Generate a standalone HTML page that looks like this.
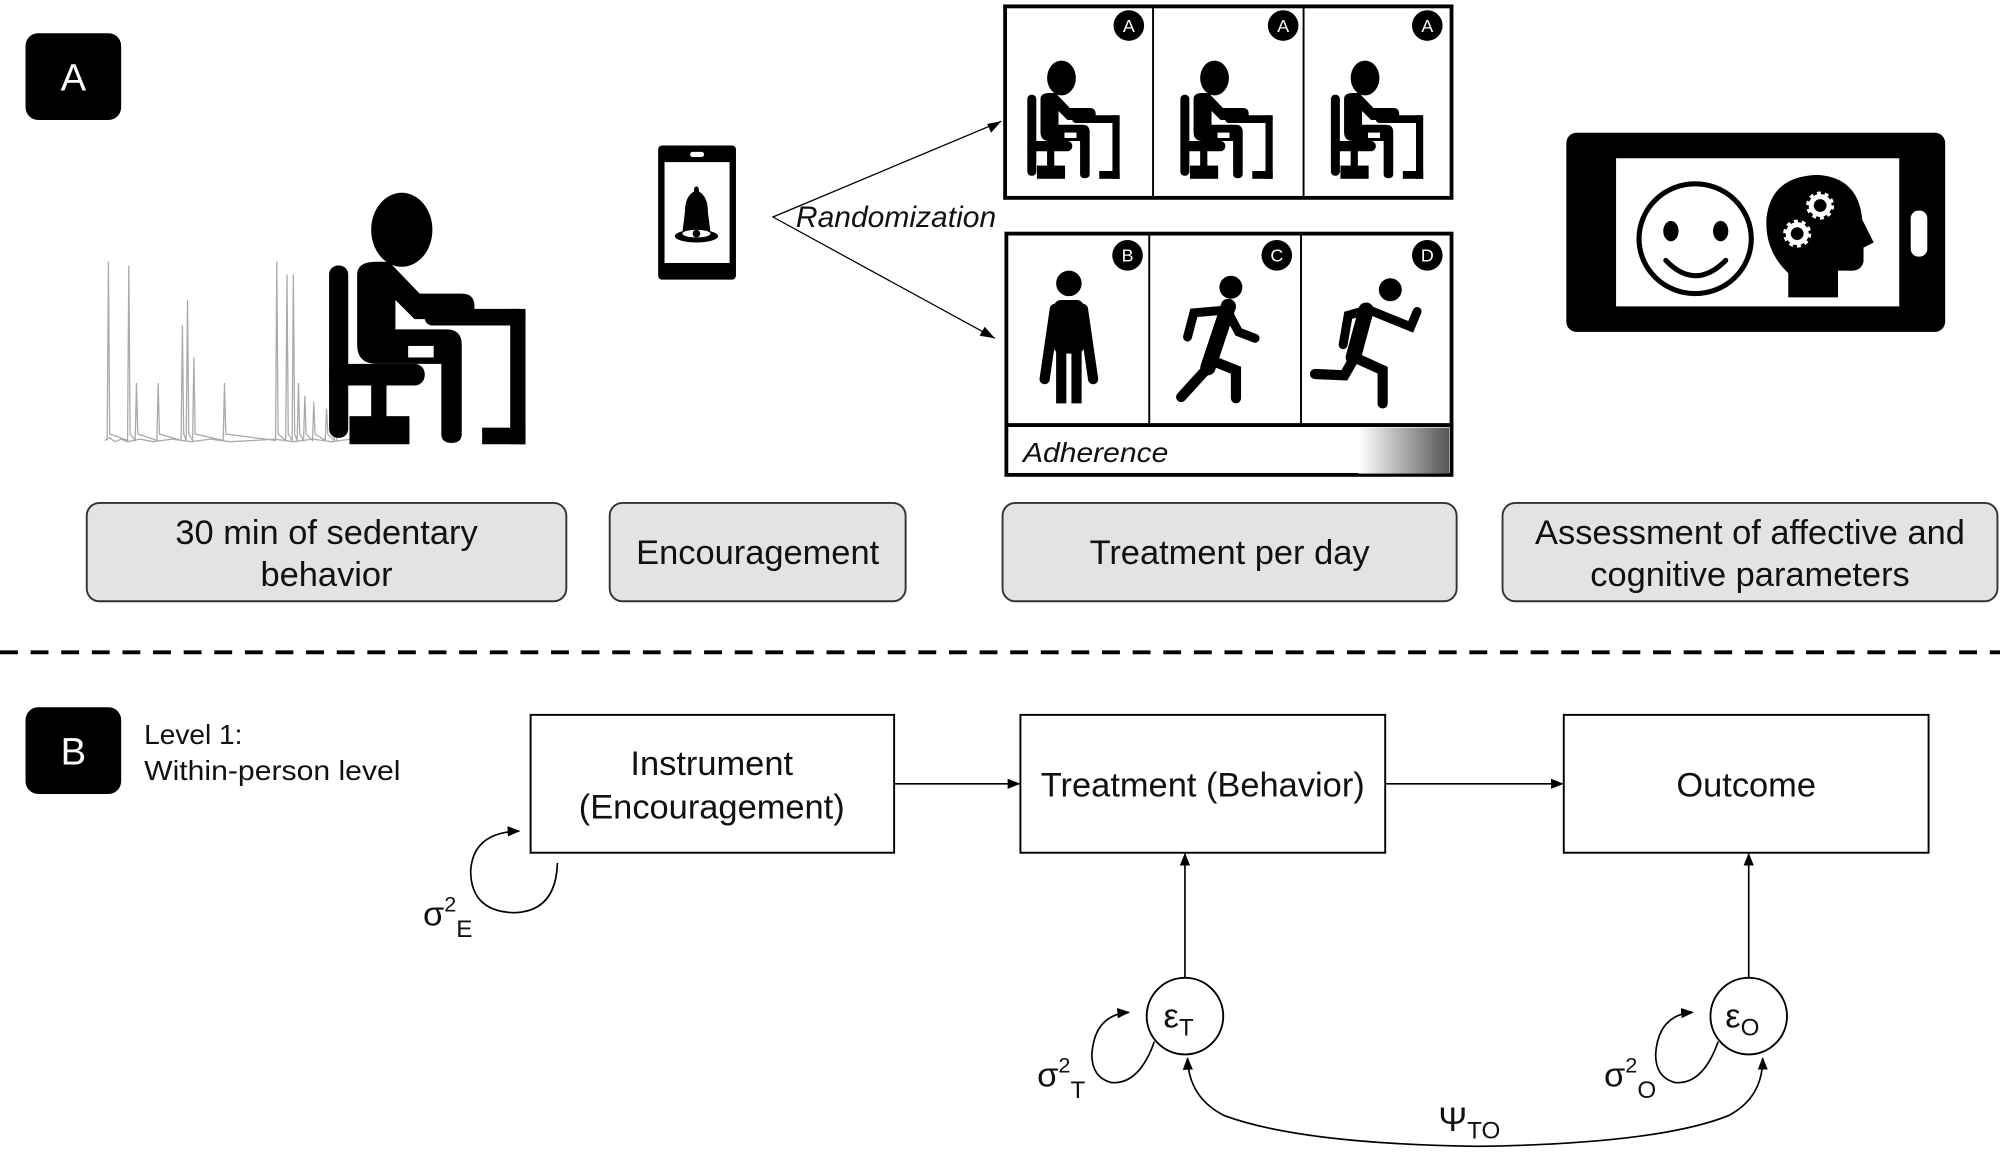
<!DOCTYPE html>
<html><head><meta charset="utf-8"><style>
html,body{margin:0;padding:0;background:#fff}
svg{display:block}
text{font-family:"Liberation Sans",Arial,sans-serif;fill:#111}
</style></head><body>
<svg width="2000" height="1154" viewBox="0 0 1568 904" preserveAspectRatio="none" xmlns="http://www.w3.org/2000/svg">
<defs>
<marker id="ah" markerWidth="10" markerHeight="10" refX="9" refY="5" orient="auto" markerUnits="userSpaceOnUse"><path d="M0,1 L10,5 L0,9 Z" fill="#000"/></marker>
<linearGradient id="gr" x1="0" x2="1" y1="0" y2="0"><stop offset="0" stop-color="#fff"/><stop offset="1" stop-color="#555"/></linearGradient>
<g id="seat">
<ellipse cx="60" cy="30" rx="24" ry="29"/>
<path d="M25,65 Q25,55 40,55 L50,55 L74,80 L107,80 Q117,80 117,90 Q117,100 107,100 L70,100 L55,85 L55,108 L95,108 Q107,108 107,120 L107,190 Q107,197 99,197 Q91,197 91,190 L91,135 L40,135 Q25,135 25,120 Z"/>
<rect x="3" y="58" width="15" height="135" rx="7"/>
<rect x="3" y="135" width="75" height="17" rx="8"/>
<rect x="36" y="150" width="12" height="30"/>
<rect x="19" y="176" width="47" height="22"/>
<rect x="78" y="92" width="79" height="13" rx="6"/>
<rect x="145" y="92" width="12" height="106"/>
<rect x="123" y="185" width="34" height="13"/>
<rect x="65" y="121" width="20" height="9" fill="#fff"/>
</g>
</defs>

<!-- A badge -->
<rect x="20" y="26" width="75" height="68" rx="10" fill="#000"/>
<text x="57.5" y="71" font-size="30" text-anchor="middle" style="fill:#fff">A</text>

<!-- trace -->
<g stroke="#aaa" stroke-width="1" fill="none">
<polyline points="82,345 86,343 90,346 95,344 100,346 110,344 120,346 135,344 150,346 165,344 180,346 200,345 215,344 230,346 245,344 260,346 275,344 290,346"/>
<polyline points="84,345 85,205 86,340 100,345 101,208 102,340 106,345 107,300 108,340 123,345 124,300 125,340 142,345 143,255 144,340 146,345 147,235 148,340 151,345 152,280 153,340 175,345 176,300 177,340 216,345 217,205 218,340 224,345 225,215 226,340 229,345 230,215 231,340 233,345 234,300 235,340 238,345 239,310 240,340 245,345 246,315 247,340 255,345 256,320 257,340 262,345 263,330 264,345"/>
</g>
<use href="#seat" transform="translate(255,150)"/>

<!-- phone -->
<rect x="516" y="114" width="61" height="105" rx="3" fill="#000"/>
<rect x="521" y="127" width="51" height="79" fill="#fff"/>
<rect x="541" y="119" width="11" height="4" rx="2" fill="#fff"/>
<path d="M546,146 Q544,146 544,150 Q537,154 537,166 L535,182 Q534,186 530,186 L561,186 Q558,186 557,182 L555,166 Q555,154 548,150 Q548,146 546,146 Z" fill="#000"/>
<ellipse cx="546" cy="185" rx="17" ry="5" fill="#000"/>
<ellipse cx="546" cy="183" rx="11" ry="3" fill="#fff"/>
<circle cx="546" cy="183" r="3" fill="#000"/>

<!-- randomization -->
<polyline points="785,95 606,170 780,265" fill="none" stroke="#000" stroke-width="1"/>
<path d="M785,95 L774,97 L777,104 Z M780,265 L772,256 L768,263 Z" fill="#000"/>
<text x="624" y="178" font-size="23" font-style="italic" textLength="157" lengthAdjust="spacingAndGlyphs">Randomization</text>

<!-- top panel -->
<rect x="788" y="5" width="350" height="150" fill="#fff" stroke="#000" stroke-width="3"/>
<line x1="904" y1="5" x2="904" y2="155" stroke="#000" stroke-width="1.5"/>
<line x1="1022" y1="5" x2="1022" y2="155" stroke="#000" stroke-width="1.5"/>
<g font-size="14" text-anchor="middle">
<circle cx="885" cy="20" r="12"/><text x="885" y="25" style="fill:#fff">A</text>
<circle cx="1006" cy="20" r="12"/><text x="1006" y="25" style="fill:#fff">A</text>
<circle cx="1119" cy="20" r="12"/><text x="1119" y="25" style="fill:#fff">A</text>
</g>
<use href="#seat" transform="translate(804,47) scale(0.47)"/>
<use href="#seat" transform="translate(924,47) scale(0.47)"/>
<use href="#seat" transform="translate(1042,47) scale(0.47)"/>

<!-- bottom panel -->
<rect x="789" y="183" width="349" height="189" fill="#fff" stroke="#000" stroke-width="3"/>
<rect x="1065" y="335" width="71" height="36" fill="url(#gr)"/>
<line x1="789" y1="333" x2="1138" y2="333" stroke="#000" stroke-width="3"/>
<line x1="901" y1="183" x2="901" y2="333" stroke="#000" stroke-width="1.5"/>
<line x1="1020" y1="183" x2="1020" y2="333" stroke="#000" stroke-width="1.5"/>
<g font-size="14" text-anchor="middle">
<circle cx="884" cy="200" r="12"/><text x="884" y="205" style="fill:#fff">B</text>
<circle cx="1001" cy="200" r="12"/><text x="1001" y="205" style="fill:#fff">C</text>
<circle cx="1119" cy="200" r="12"/><text x="1119" y="205" style="fill:#fff">D</text>
</g>
<text x="802" y="362" font-size="22" font-style="italic" textLength="114" lengthAdjust="spacingAndGlyphs">Adherence</text>
<!-- standing -->
<circle cx="838" cy="222" r="10"/>
<rect x="826" y="235" width="24" height="42" rx="6"/>
<g stroke="#000" stroke-linecap="round" fill="none">
<path d="M827,242 L819,297 M849,242 L857,297" stroke-width="8"/>
<path d="M832,272 L832,316 M844,272 L844,316" stroke-width="8" stroke-linecap="butt"/>
<path d="M963,240 L947,288" stroke-width="12"/>
<path d="M947,288 L926,311 M949,282 L969,290 L969,312" stroke-width="8"/>
<path d="M960,243 L936,245 L931,264 M963,245 L971,260 L984,265" stroke-width="7"/>
<path d="M1071,243 L1061,280" stroke-width="12"/>
<path d="M1062,280 L1054,294 L1031,293 M1062,280 L1084,290 L1084,316" stroke-width="8"/>
<path d="M1071,243 L1057,247 L1053,270 M1074,243 L1091,250 L1106,256 L1111,244" stroke-width="7"/>
</g>
<circle cx="965" cy="225" r="9"/>
<circle cx="1090" cy="227" r="9"/>

<!-- tablet -->
<rect x="1228" y="104" width="297" height="156" rx="8" fill="#000"/>
<rect x="1267" y="124" width="222" height="116" fill="#fff"/>
<rect x="1498" y="165" width="13" height="36" rx="6" fill="#fff"/>
<ellipse cx="1329" cy="187" rx="44" ry="43" fill="none" stroke="#000" stroke-width="4"/>
<ellipse cx="1310" cy="181" rx="6" ry="8"/>
<ellipse cx="1349" cy="181" rx="6" ry="8"/>
<path d="M1306,204 Q1329,228 1353,204" fill="none" stroke="#000" stroke-width="4" stroke-linecap="round"/>
<path d="M1402,233 L1402,214 Q1383,196 1385,170 Q1389,138 1425,137 Q1457,139 1460,172 L1469,190 L1461,194 L1461,205 Q1459,213 1449,212 L1441,212 L1441,233 Z"/>
<g fill="none" stroke="#fff">
<circle cx="1427" cy="161" r="7" stroke-width="4"/>
<circle cx="1427" cy="161" r="9.5" stroke-width="3" stroke-dasharray="3 3"/>
<circle cx="1409" cy="183" r="7" stroke-width="4"/>
<circle cx="1409" cy="183" r="9.5" stroke-width="3" stroke-dasharray="3 3"/>
</g>

<!-- label boxes -->
<g fill="#e3e3e3" stroke="#333" stroke-width="1.5">
<rect x="68" y="394" width="376" height="77" rx="10"/>
<rect x="478" y="394" width="232" height="77" rx="10"/>
<rect x="786" y="394" width="356" height="77" rx="10"/>
<rect x="1178" y="394" width="388" height="77" rx="10"/>
</g>
<g font-size="27" text-anchor="middle">
<text x="256" y="426">30 min of sedentary</text>
<text x="256" y="459">behavior</text>
<text x="594" y="442">Encouragement</text>
<text x="964" y="442">Treatment per day</text>
<text x="1372" y="426">Assessment of affective and</text>
<text x="1372" y="459">cognitive parameters</text>
</g>

<line x1="0" y1="511" x2="1568" y2="511" stroke="#000" stroke-width="3" stroke-dasharray="14 10"/>

<!-- B -->
<rect x="20" y="554" width="75" height="68" rx="10" fill="#000"/>
<text x="57.5" y="599" font-size="30" text-anchor="middle" style="fill:#fff">B</text>
<text x="113" y="583" font-size="22">Level 1:</text>
<text x="113" y="611" font-size="22" textLength="201" lengthAdjust="spacingAndGlyphs">Within-person level</text>

<g fill="#fff" stroke="#000" stroke-width="1.5">
<rect x="416" y="560" width="285" height="108"/>
<rect x="800" y="560" width="286" height="108"/>
<rect x="1226" y="560" width="286" height="108"/>
<circle cx="929" cy="796" r="30"/>
<circle cx="1371" cy="796" r="30"/>
</g>
<g font-size="27" text-anchor="middle">
<text x="558" y="607">Instrument</text>
<text x="558" y="641">(Encouragement)</text>
<text x="943" y="624">Treatment (Behavior)</text>
<text x="1369" y="624">Outcome</text>
<text x="924" y="805">ε<tspan font-size="19" dy="6">T</tspan></text>
<text x="1366" y="805">ε<tspan font-size="19" dy="6">O</tspan></text>
<text x="351" y="725">σ<tspan font-size="17" dy="-11">2</tspan><tspan font-size="19" dy="20">E</tspan></text>
<text x="832" y="851">σ<tspan font-size="17" dy="-11">2</tspan><tspan font-size="19" dy="20">T</tspan></text>
<text x="1278" y="851">σ<tspan font-size="17" dy="-11">2</tspan><tspan font-size="19" dy="20">O</tspan></text>
<text x="1152" y="886">Ψ<tspan font-size="19" dy="6">TO</tspan></text>
</g>
<g fill="none" stroke="#000" stroke-width="1.3" marker-end="url(#ah)">
<line x1="701" y1="614" x2="799" y2="614"/>
<line x1="1086" y1="614" x2="1225" y2="614"/>
<line x1="929" y1="766" x2="929" y2="669"/>
<line x1="1371" y1="766" x2="1371" y2="669"/>
<path d="M437,676 Q436,714 403,715 Q369,714 369,682 Q371,652 407,651"/>
<path d="M905,816 Q893,850 871,848 Q856,844 856,826 Q858,795 885,793"/>
<path d="M1347,816 Q1335,850 1313,848 Q1298,844 1298,826 Q1300,795 1327,793"/>
<path d="M1158,898 Q1020,896 960,874 Q932,860 931,829"/>
<path d="M1158,898 Q1300,896 1355,874 Q1382,860 1382,829"/>
</g>
</svg>
</body></html>
